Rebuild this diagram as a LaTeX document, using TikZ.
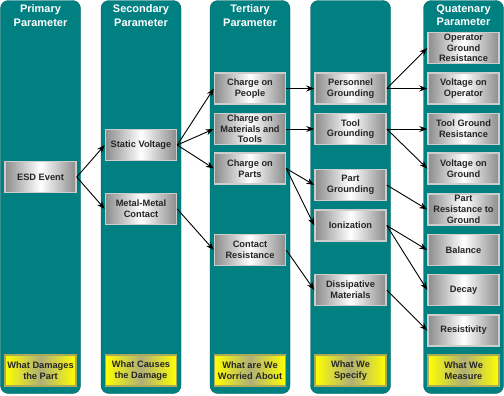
\documentclass[tikz,border=0pt]{standalone}
\usepackage{fontspec}
\setmainfont{Liberation Sans}
\usepackage{tikz}
\usetikzlibrary{arrows.meta, positioning, calc}
\usepackage{xcolor}
\definecolor{panelcolor}{RGB}{0,128,128}
\definecolor{paneledge}{RGB}{0,96,96}
\definecolor{boxedge}{RGB}{205,205,205}
\definecolor{boxside}{RGB}{140,140,140}
\definecolor{notecenter}{RGB}{175,175,120}
\definecolor{noteedge}{RGB}{170,170,90}

\begin{document}
\begin{tikzpicture}[
    x=1bp, y=-1bp,
    panel/.style={rectangle, draw=paneledge, fill=panelcolor, rounded corners=8bp, minimum width=80bp, minimum height=393bp, inner sep=0pt},
    header/.style={align=center, text=white, font=\fontsize{11}{13.3}\selectfont\bfseries, inner sep=0pt},
    param/.style={rectangle, draw=boxedge, line width=1.5bp, left color=boxside, right color=boxside, middle color=white, minimum width=71bp, minimum height=31bp, inner sep=0pt, align=center, text=black!85, font=\fontsize{9.3}{10.7}\selectfont\bfseries},
    note/.style={param, draw=noteedge, left color=yellow, right color=yellow, middle color=notecenter},
    arrow/.style={-{Stealth[length=8bp, width=6bp]}, line width=0.9bp}
]
\useasboundingbox (0,0) rectangle (504,395);

% columns
\node[panel] (col1) at (40.5,197) {};
\node[panel] (col2) at (141,197) {};
\node[panel] (col3) at (250,197) {};
\node[panel] (col4) at (350.5,197) {};
\node[panel] (col5) at (463.5,197) {};

\node[header] (h1) at (40.5,15.5) {Primary\\Parameter};
\node[header] (h2) at (141,15.5) {Secondary\\Parameter};
\node[header] (h3) at (250,15.5) {Tertiary\\Parameter};
\node[header] (h5) at (463.5,15.5) {Quatenary\\Parameter};

% primary and secondary
\node[param] (esd) at (40.5,177) {ESD Event};
\node[param] (static) at (141,145) {Static Voltage};
\node[param] (metal) at (141,209) {Metal-Metal\\Contact};

% tertiary
\node[param] (people) at (250,88.5) {Charge on\\People};
\node[param] (materials) at (250,129) {Charge on\\Materials and\\Tools};
\node[param] (parts) at (250,168.5) {Charge on\\Parts};
\node[param] (contact) at (250,250) {Contact\\Resistance};

% what we specify
\node[param] (personnel) at (350.5,88.5) {Personnel\\Grounding};
\node[param] (tool) at (350.5,129) {Tool\\Grounding};
\node[param] (partgnd) at (350.5,185) {Part\\Grounding};
\node[param] (ion) at (350.5,225.5) {Ionization};
\node[param] (dissip) at (350.5,290) {Dissipative\\Materials};

% quatenary
\node[param] (opres) at (463.5,48) {Operator\\Ground\\Resistance};
\node[param] (opvolt) at (463.5,88.5) {Voltage on\\Operator};
\node[param] (toolres) at (463.5,129) {Tool Ground\\Resistance};
\node[param] (gndvolt) at (463.5,168.5) {Voltage on\\Ground};
\node[param] (partres) at (463.5,209.5) {Part\\Resistance to\\Ground};
\node[param] (balance) at (463.5,250) {Balance};
\node[param] (decay) at (463.5,290) {Decay};
\node[param] (resist) at (463.5,330.5) {Resistivity};

% bottom notes
\node[note] (n1) at (40.5,370.5) {What Damages\\the Part};
\node[note] (n2) at (141,370.5) {What Causes\\the Damage};
\node[note] (n3) at (250,370.5) {What are We\\Worried About};
\node[note] (n4) at (350.5,370.5) {What We\\Specify};
\node[note] (n5) at (463.5,370.5) {What We\\Measure};

\draw[arrow] (esd.east) -- (static.west);
\draw[arrow] (esd.east) -- (metal.west);
\draw[arrow] (static.east) -- (people.west);
\draw[arrow] (static.east) -- (materials.west);
\draw[arrow] (static.east) -- (parts.west);
\draw[arrow] (metal.east) -- (contact.west);
\draw[arrow] (people.east) -- (personnel.west);
\draw[arrow] (materials.east) -- (tool.west);
\draw[arrow] (parts.east) -- (partgnd.west);
\draw[arrow] (parts.east) -- (ion.west);
\draw[arrow] (contact.east) -- (dissip.west);
\draw[arrow] (personnel.east) -- (opres.west);
\draw[arrow] (personnel.east) -- (opvolt.west);
\draw[arrow] (tool.east) -- (toolres.west);
\draw[arrow] (tool.east) -- (gndvolt.west);
\draw[arrow] (partgnd.east) -- (partres.west);
\draw[arrow] (ion.east) -- (balance.west);
\draw[arrow] (ion.east) -- (decay.west);
\draw[arrow] (dissip.east) -- (resist.west);

\end{tikzpicture}
\end{document}
